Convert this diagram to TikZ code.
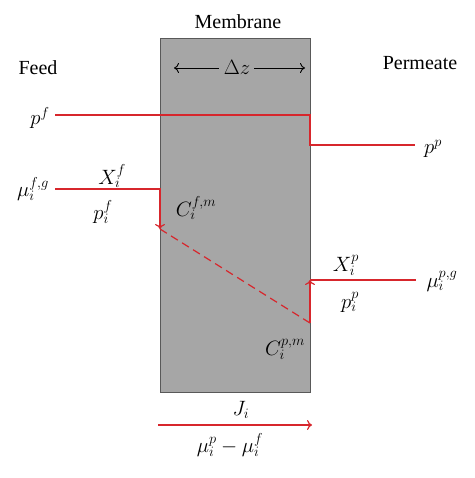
\documentclass[tikz,border=0pt]{standalone}
\usepackage{fontspec}
\setmainfont{Liberation Serif}
\usetikzlibrary{arrows.meta}
\definecolor{memred}{HTML}{D7262C}
\definecolor{memgray}{HTML}{A6A6A6}
\begin{document}
\begin{tikzpicture}[x=1pt,y=-1pt,
  redline/.style={draw=memred, line width=1.2pt},
  redarrow/.style={redline, -{To[length=5pt,width=10pt]}},
  lbl/.style={inner sep=0pt, font=\fontsize{20}{23}\selectfont},
  mlbl/.style={inner sep=0pt, font=\fontsize{22.5}{25}\selectfont}]
\useasboundingbox (0,0) rectangle (474,478);
\draw[fill=memgray, draw=gray!70!black, line width=0.8pt] (160,38) rectangle (310,392);
\node[lbl] (membrane) at (238,22) {Membrane};
\node[lbl] (feed) at (38,68) {Feed};
\node[lbl] (permeate) at (420,63) {Permeate};
\node[mlbl] (dz) at (237,67) {$\Delta z$};
\coordinate (dzl) at (174,68);
\coordinate (dzr) at (305,68);
\draw[-{To[length=5pt,width=10pt]}, line width=0.9pt] (dz.west) ++(-5,1) -- (dzl);
\draw[-{To[length=5pt,width=10pt]}, line width=0.9pt] (dz.east) ++(4,1) -- (dzr);
% pressure
\node[mlbl] (pf) at (40,118) {$p^f$};
\node[mlbl] (pp) at (433,149) {$p^p$};
\coordinate (pfa) at (55,115);
\coordinate (pfb) at (310,115);
\coordinate (pfc) at (310,145);
\coordinate (pfd) at (415,145);
\draw[redline] (pfa) -- (pfb) -- (pfc) -- (pfd);
% feed side chemical potential
\node[mlbl] (muf) at (33,189) {$\mu_i^{f,g}$};
\node[mlbl] (Xf) at (112,176) {$X_i^f$};
\node[mlbl] (pif) at (103,212) {$p_i^f$};
\node[mlbl] (Cfm) at (196,208) {$C_i^{f,m}$};
\coordinate (fa) at (55,189);
\coordinate (fb) at (160,189);
\coordinate (fc) at (160,229);
\draw[redarrow] (fa) -- (fb) -- (fc);
% dashed concentration profile
\coordinate (pc) at (310,323);
\draw[redline, dash pattern=on 8pt off 5pt] (fc) -- (pc);
% permeate side
\node[mlbl] (Cpm) at (285,349) {$C_i^{p,m}$};
\node[mlbl] (Xp) at (346,265) {$X_i^p$};
\node[mlbl] (pip) at (350,302) {$p_i^p$};
\node[mlbl] (mup) at (442,281) {$\mu_i^{p,g}$};
\coordinate (pa) at (416,280);
\coordinate (pb) at (310,280);
\draw[redarrow] (pc) -- (pb);
\draw[redline] (pb) -- (pa);
% flux
\node[mlbl] (Ji) at (241,410) {$J_i$};
\node[mlbl] (dmu) at (230,445) {$\mu_i^p - \mu_i^f$};
\coordinate (ja) at (158,425);
\coordinate (jb) at (312,425);
\draw[redarrow] (ja) -- (jb);
\end{tikzpicture}
\end{document}
